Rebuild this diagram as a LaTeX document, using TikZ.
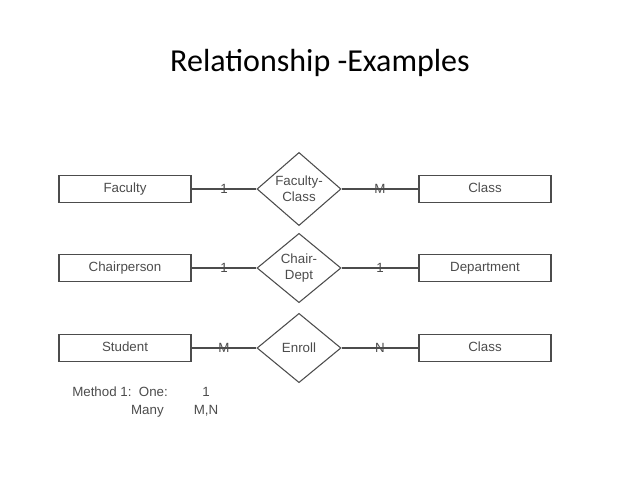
\documentclass[tikz,border=0pt]{standalone}
\usepackage{fontspec}
\setmainfont{Liberation Sans}
\newfontfamily\titlefont{Carlito}
\usetikzlibrary{shapes.geometric}
\begin{document}
\begin{tikzpicture}[x=0.75pt,y=-0.75pt,
    entity/.style={draw=black!70,line width=0.8pt,minimum width=99pt,minimum height=20pt,
        inner sep=0pt,font=\normalsize,text=black!70},
    relship/.style={draw=black!70,line width=0.8pt,diamond,minimum width=63pt,minimum height=52pt,
        inner sep=0pt,font=\normalsize,text=black!70,align=center},
    card/.style={fill=none,font=\normalsize,text=black!70,inner sep=0pt}]
    \useasboundingbox (0,0) rectangle (638,478);

    \node[font=\titlefont\fontsize{24}{28}\selectfont] (title) at (320,63) {Relationship -Examples};

    %rows of entities and relationships
    \foreach \row/\y/\lname/\rname/\mid/\lc/\rc in {
        a/189/Faculty/Class/{Faculty-\\Class}/1/M,
        b/268/Chairperson/Department/{Chair-\\Dept}/1/1,
        c/348/Student/Class/Enroll/M/N
    } {
        \node[entity] (left\row) at (125,\y) {\strut\lname};
        \node[entity] (right\row) at (485,\y) {\strut\rname};
        \node[relship] (rel\row) at (299,\y) {\mid};
        \draw[black!70,line width=0.8pt] (left\row) -- node[card,pos=0.5] {\lc} (rel\row);
        \draw[black!70,line width=0.8pt] (rel\row) -- node[card,pos=0.5] {\rc} (right\row);
    }

    %legend
    \node[card,anchor=west] (method) at (72,392) {Method 1:\ \ One:};
    \node[card] (one) at (206,392) {1};
    \node[card,anchor=east] (many) at (164,411) {Many};
    \node[card] (mn) at (206,411) {M,N};
\end{tikzpicture}
\end{document}
